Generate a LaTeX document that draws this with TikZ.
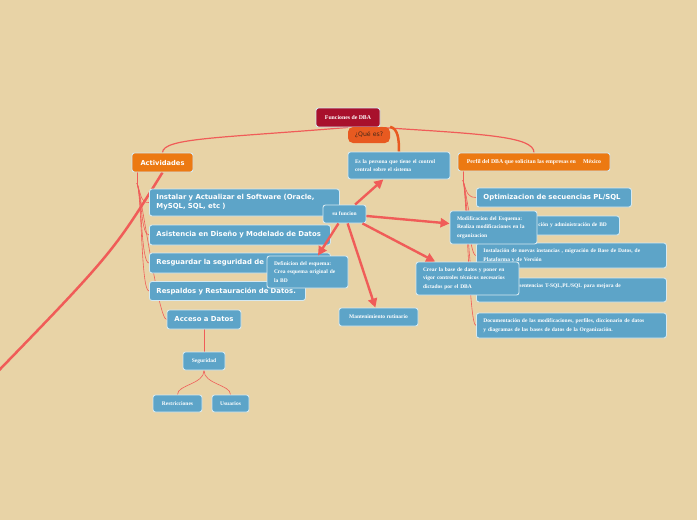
\documentclass[tikz,border=0pt]{standalone}
\usepackage{fontspec}
\setmainfont{Liberation Serif}
\setsansfont{DejaVu Sans}
\usetikzlibrary{arrows.meta,backgrounds}

\definecolor{fondo}{RGB}{232,211,166}
\definecolor{azul}{RGB}{93,164,200}
\definecolor{borde}{RGB}{214,233,240}
\definecolor{naranja}{RGB}{236,121,18}
\definecolor{granate}{RGB}{168,16,44}
\definecolor{rojo}{RGB}{240,92,88}
\definecolor{queEs}{RGB}{232,90,32}
\definecolor{oscuro}{RGB}{70,40,25}

\tikzset{
  tema/.style={rounded corners=2.5pt, draw=borde, line width=0.9pt,
    text=white, inner xsep=7pt, inner ysep=2pt},
  azulbox/.style={tema, fill=azul, align=left,
    font=\sffamily\bfseries\fontsize{6.9}{9}\selectfont},
  nota/.style={tema, fill=azul, align=left,
    font=\bfseries\fontsize{5.5}{8.5}\selectfont},
  naranjabox/.style={tema, fill=naranja},
  conector/.style={draw=rojo, line width=0.6pt},
  rama/.style={draw=rojo, line width=1.2pt},
  flecha/.style={draw=rojo, line width=2.4pt, -{Triangle[length=9pt,width=9pt]}}
}

\begin{document}
\begin{tikzpicture}[x=1pt,y=-1pt]
\useasboundingbox (0,0) rectangle (697,520);
\clip (0,0) rectangle (697,520);

% centro
\node[tema, fill=granate, minimum width=64pt, minimum height=19pt,
  font=\bfseries\fontsize{5.8}{6}\selectfont] (funciones) at (348,117.5) {Funciones de DBA};
\node[fill=queEs, rounded corners=5pt, minimum width=42pt, minimum height=16pt,
  text=oscuro, font=\sffamily\fontsize{6.2}{7}\selectfont] (quees) at (369,135) {¿Qué es?};

% ramas principales
\node[naranjabox, minimum width=61pt, minimum height=19pt,
  font=\sffamily\bfseries\fontsize{6.7}{8}\selectfont] (actividades) at (162.5,162.5) {Actividades};
\node[nota, text width=88pt, minimum height=27pt] (persona) at (399,165.5)
  {Es la persona que tiene el control\\central sobre el sistema};
\node[naranjabox, minimum width=152pt, minimum height=18pt,
  font=\bfseries\fontsize{5.8}{6}\selectfont] (perfil) at (534,162)
  {Perfil del DBA que solicitan las empresas en\quad\ México};

% actividades
\node[azulbox, anchor=west, text width=176pt, minimum height=27pt] (instalar) at (149,202.5)
  {Instalar y Actualizar el Software (Oracle,\\MySQL, SQL, etc )};
\node[azulbox, anchor=west, text width=167pt, minimum height=20pt] (asistencia) at (149,235)
  {Asistencia en Diseño y Modelado de Datos};
\node[azulbox, anchor=west, text width=167pt, minimum height=20pt] (resguardar) at (149,263)
  {Resguardar la seguridad de};
\node[azulbox, anchor=west, text width=142pt, minimum height=19pt] (respaldos) at (149,291)
  {Respaldos y Restauración de Datos.};
\node[azulbox, minimum width=74pt, minimum height=19pt] (acceso) at (204,319.5) {Acceso a Datos};
\node[nota, inner xsep=3pt, minimum width=42pt, minimum height=18pt] (seguridad) at (204,361) {Seguridad};
\node[nota, inner xsep=3pt, minimum width=49pt, minimum height=17pt] (restricciones) at (177.5,403.5) {Restricciones};
\node[nota, inner xsep=3pt, minimum width=37pt, minimum height=17pt] (usuarios) at (230.5,403.5) {Usuarios};

% su funcion
\node[nota, inner xsep=3pt, minimum width=43pt, minimum height=18pt] (sufuncion) at (344.5,214) {su funcion};
\node[nota, text width=67pt, minimum height=32pt, inner ysep=1pt] (definicion) at (307.5,272)
  {Definicion del esquema:\\Crea esquema original de\\la BD};
\node[nota, inner xsep=3pt, minimum width=79pt, minimum height=18pt] (mantenimiento) at (378.5,317)
  {Mantenimiento rutinario};

% perfil
\node[azulbox, anchor=west, inner xsep=5pt, text width=145pt, minimum height=19pt] (optimizacion) at (476,197.5)
  {\hspace*{2pt}Optimizacion de secuencias PL/SQL};
\node[nota, anchor=west, text width=129pt, minimum height=19pt] (configuracion) at (476,225.5)
  {\hspace*{55pt}ción y administración de BD};
\node[nota, anchor=west, text width=176pt, minimum height=25pt] (instalacion) at (476,255.5)
  {Instalación de nuevas instancias , migración de Base de Datos, de\\Plataforma y de Versión};
\node[nota, anchor=west, text width=176pt, minimum height=24pt] (afinacion) at (476,290)
  {\hspace*{36pt}sentencias T-SQL,PL/SQL para mejora de\\\mbox{}};
\node[nota, anchor=west, text width=176pt, minimum height=25pt] (documentacion) at (476,325.5)
  {Documentación de las modificaciones, perfiles, diccionario de datos\\y diagramas de las bases de datos de la Organización.};
\node[nota, text width=73pt, minimum height=33pt] (modificacion) at (493.5,227.5)
  {Modificacion del Esquema:\\Realiza modificaciones en la\\organizacion};
\node[nota, text width=89pt, minimum height=33pt] (crear) at (467.5,278.5)
  {Crear la base de datos y poner en\\vigor controles técnicos necesarios\\dictados por el DBA};

% flechas
\foreach \destino in {persona,definicion,mantenimiento,modificacion,crear}
  \draw[flecha] (sufuncion) -- (\destino);

\begin{pgfonlayer}{background}
  \fill[fondo] (0,0) rectangle (697,520);
  \draw[rama] (funciones.south) .. controls (220,138) and (163,138) .. (actividades.north);
  \draw[rama] (funciones.south east) .. controls (480,134) and (534,136) .. (perfil.north);
  \draw[queEs, line width=2.5pt] (quees.north east) .. controls +(8,2) and +(0,-12) .. (persona.north);
  % hijos de actividades
  \coordinate (actbase) at (137,183);
  \draw[conector] (actividades.south -| actbase) -- (actbase);
  \foreach \hijo in {instalar,asistencia,resguardar,respaldos,acceso}
    \draw[conector] (actbase) .. controls +(5,15) and +(-8,0) .. (\hijo.west);
  % hijos de perfil
  \coordinate (perbase) at (463,180);
  \draw[conector] (perfil.south -| perbase) -- (perbase);
  \foreach \hijo in {optimizacion,configuracion,instalacion,afinacion,documentacion}
    \draw[conector] (perbase) .. controls +(4,15) and +(-7,0) .. (\hijo.west);
  \draw[conector] (acceso) -- (seguridad);
  \draw[conector] (seguridad.south) .. controls +(0,14) and +(0,-10) .. (restricciones.north);
  \draw[conector] (seguridad.south) .. controls +(0,14) and +(0,-10) .. (usuarios.north);
  % rama que sale del lienzo
  \coordinate (fuera) at (-25,395);
  \draw[rojo, line width=2.5pt] (actividades.south) .. controls (112,254) .. (fuera);
\end{pgfonlayer}
\end{tikzpicture}
\end{document}
